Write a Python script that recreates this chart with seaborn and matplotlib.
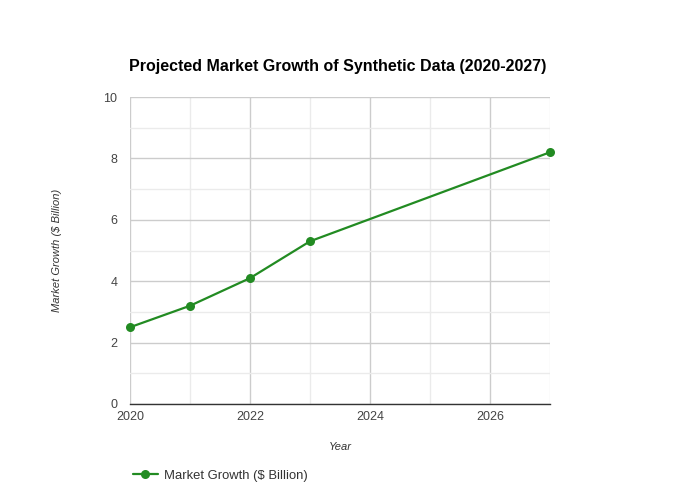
import matplotlib
matplotlib.use("Agg")
import matplotlib.pyplot as plt
from matplotlib.ticker import MultipleLocator
from matplotlib.lines import Line2D
import seaborn as sns
import pandas as pd

years = [2020, 2021, 2022, 2023, 2027]
growth = [2.5, 3.2, 4.1, 5.3, 8.2]
series_name = "Market Growth ($ Billion)"
title = "Projected Market Growth of Synthetic Data (2020-2027)"

df = pd.DataFrame({"Year": years, "Value": growth, "Series": series_name})

sns.set_style("white")
plt.rcParams['font.family'] = ['Liberation Sans', 'DejaVu Sans']

fig = plt.figure(figsize=(6.8, 5.0), dpi=100)
ax = fig.add_axes([130/680, 96/500, 420/680, 307/500])

green = "#228B22"
sns.lineplot(data=df, x="Year", y="Value", hue="Series", palette=[green],
             marker="o", markersize=6.5, markeredgewidth=0, linewidth=1.6,
             ax=ax, legend=False, zorder=5, clip_on=False)

ax.set_xlim(2020, 2027)
ax.set_ylim(0, 10)
ax.xaxis.set_major_locator(MultipleLocator(2))
ax.xaxis.set_minor_locator(MultipleLocator(1))
ax.yaxis.set_major_locator(MultipleLocator(2))
ax.yaxis.set_minor_locator(MultipleLocator(1))
ax.grid(which="major", color="#cccccc", linewidth=1)
ax.grid(which="minor", color="#ebebeb", linewidth=1)
ax.set_axisbelow(True)
for s in ["top", "right", "left"]:
    ax.spines[s].set_visible(False)
ax.spines["bottom"].set_color("#333333")
ax.spines["bottom"].set_linewidth(1)
ax.tick_params(which="both", length=0, labelsize=9, colors="#444444")
ax.tick_params(axis="x", pad=5)
ax.tick_params(axis="y", pad=9)

ax.set_xlabel("Year", fontsize=8, style="italic", color="#333333", labelpad=13.5)
ax.set_ylabel("Market Growth ($ Billion)", fontsize=8, style="italic", color="#333333", labelpad=30)
fig.text(338/680, 1 - 67/500, title, ha="center", va="center", fontsize=11.5,
         fontweight="bold", color="#000000")

handle = Line2D([], [], color=green, linewidth=1.6, marker="o", markersize=6.5, markeredgewidth=0)
fig.legend([handle], [series_name], loc="center left", bbox_to_anchor=(121/680, 1 - 476/500),
           frameon=False, fontsize=9.4, handlelength=1.9, handletextpad=0.5,
           labelcolor="#333333")

fig.savefig("out.png", dpi=100)
